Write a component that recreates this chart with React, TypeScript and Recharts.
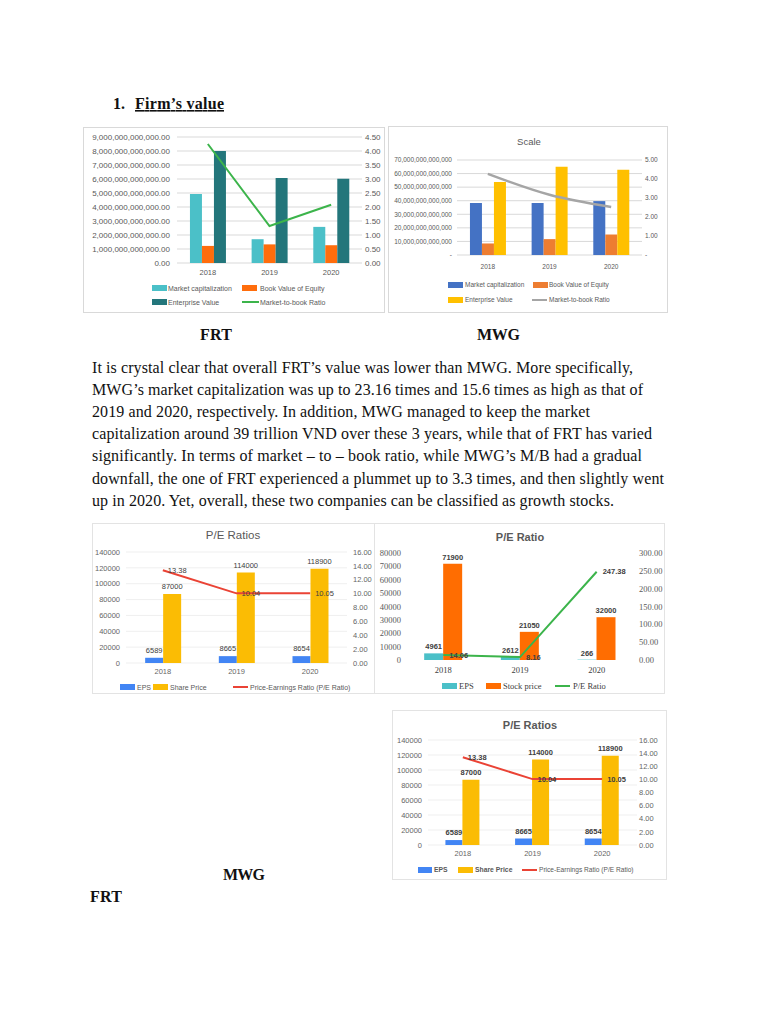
import React from 'react';
import { ComposedChart, Bar, Line, XAxis, YAxis, CartesianGrid, LabelList } from 'recharts';

const years = ['2018', '2019', '2020'];

// FRT - firm's value
const frtMarketCap = [4.93e12, 1.7e12, 2.58e12];
const frtBookValue = [1.22e12, 1.33e12, 1.27e12];
const frtEnterpriseValue = [8.0e12, 6.08e12, 6.02e12];
const frtMarketToBook = [4.25, 1.32, 2.08];
const frtValueTicks = [0, 1e12, 2e12, 3e12, 4e12, 5e12, 6e12, 7e12, 8e12, 9e12];
const frtRatioTicks = [0, 0.5, 1, 1.5, 2, 2.5, 3, 3.5, 4, 4.5];

// MWG - firm's value
const mwgMarketCap = [3.83e13, 3.83e13, 3.97e13];
const mwgBookValue = [0.85e13, 1.17e13, 1.51e13];
const mwgEnterpriseValue = [5.37e13, 6.51e13, 6.29e13];
const mwgMarketToBook = [4.27, 3.17, 2.53];
const mwgValueTicks = [0, 1e13, 2e13, 3e13, 4e13, 5e13, 6e13, 7e13];
const mwgRatioTicks = [0, 1, 2, 3, 4, 5];

// FRT - P/E
const frtEps = [6589, 8665, 8654];
const frtSharePrice = [87000, 114000, 118900];
const frtPe = [13.38, 10.04, 10.05];
const frtPriceTicks = [0, 20000, 40000, 60000, 80000, 100000, 120000, 140000];
const frtPeTicks = [0, 2, 4, 6, 8, 10, 12, 14, 16];

// MWG - P/E
const mwgEps = [4961, 2612, 266];
const mwgStockPrice = [71900, 21050, 32000];
const mwgPe = [14.06, 8.16, 247.38];
const mwgPriceTicks = [0, 10000, 20000, 30000, 40000, 50000, 60000, 70000, 80000];
const mwgPeTicks = [0, 50, 100, 150, 200, 250, 300];

const paragraph = [
  'It is crystal clear that overall FRT’s value was lower than MWG. More specifically,',
  'MWG’s market capitalization was up to 23.16 times and 15.6 times as high as that of',
  '2019 and 2020, respectively. In addition, MWG managed to keep the market',
  'capitalization around 39 trillion VND over these 3 years, while that of FRT has varied',
  'significantly. In terms of market – to – book ratio, while MWG’s M/B had a gradual',
  'downfall, the one of FRT experienced a plummet up to 3.3 times, and then slightly went',
  'up in 2020. Yet, overall, these two companies can be classified as growth stocks.',
];
const paragraphWidths = [541, 551, 498, 560, 550, 572, 522];

const sans = '"Liberation Sans", Arial, sans-serif';
const serif = '"Liberation Serif", "Times New Roman", serif';

const fmt2 = (v: number) => v.toLocaleString('en-US', { minimumFractionDigits: 2, maximumFractionDigits: 2 });
const fmtDashInt = (v: number) => (v === 0 ? '-' : v.toLocaleString('en-US'));
const fmtDash2 = (v: number) => (v === 0 ? '-' : v.toFixed(2));

const frtValueData = years.map((year, i) => ({
  year,
  marketCap: frtMarketCap[i],
  bookValue: frtBookValue[i],
  enterpriseValue: frtEnterpriseValue[i],
  mb: frtMarketToBook[i],
}));
const mwgValueData = years.map((year, i) => ({
  year,
  marketCap: mwgMarketCap[i],
  bookValue: mwgBookValue[i],
  enterpriseValue: mwgEnterpriseValue[i],
  mb: mwgMarketToBook[i],
}));
const frtPeData = years.map((year, i) => ({ year, eps: frtEps[i], price: frtSharePrice[i], pe: frtPe[i] }));
const mwgPeData = years.map((year, i) => ({ year, eps: mwgEps[i], price: mwgStockPrice[i], pe: mwgPe[i] }));

const Frame = ({ left, top, width, height, color = '#d9d9d9' }: any) => (
  <div style={{ position: 'absolute', left, top, width, height, border: `1px solid ${color}`, boxSizing: 'border-box' }} />
);

const Swatch = ({ x, y, color, kind = 'rect', w = 15 }: any) => (
  <div
    style={{
      position: 'absolute',
      left: x,
      top: kind === 'rect' ? y - 3 : y - 1,
      width: w,
      height: kind === 'rect' ? 6 : 2,
      background: color,
    }}
  />
);

const Caption = ({ x, y, text, size = 7, family = sans, weight = 'normal', color = '#595959', center = false }: any) => (
  <div
    style={{
      position: 'absolute',
      left: x,
      top: y,
      transform: center ? 'translate(-50%, -50%)' : 'translateY(-50%)',
      fontSize: size,
      fontFamily: family,
      fontWeight: weight,
      color,
      lineHeight: 1,
      whiteSpace: 'nowrap',
    }}
  >
    {text}
  </div>
);

const Place = ({ left, top, children }: any) => (
  <div style={{ position: 'absolute', left, top }}>{children}</div>
);

function FrtValueChart() {
  const tick = { fontSize: 8, fill: '#595959', fontFamily: sans };
  return (
    <Place left={83} top={127}>
      <ComposedChart width={302} height={156} data={frtValueData} margin={{ top: 10, right: 0, bottom: 0, left: 0 }} barCategoryGap="21%" barGap={0}>
        <CartesianGrid yAxisId="left" vertical={false} stroke="#d9d9d9" />
        <XAxis dataKey="year" axisLine={false} tickLine={false} tickSize={0} tickMargin={7} height={20} tick={{ ...tick, fontSize: 7.5 }} interval={0} />
        <YAxis yAxisId="left" width={94} domain={[0, 9e12]} ticks={frtValueTicks} tickFormatter={fmt2} axisLine={false} tickLine={false} tickSize={0} tickMargin={7} interval={0} tick={tick} />
        <YAxis yAxisId="right" orientation="right" width={23} domain={[0, 4.5]} ticks={frtRatioTicks} tickFormatter={(v: number) => v.toFixed(2)} axisLine={false} tickLine={false} tickSize={0} tickMargin={3} interval={0} tick={tick} />
        <Bar yAxisId="left" dataKey="marketCap" fill="#4bc0c8" isAnimationActive={false} />
        <Bar yAxisId="left" dataKey="bookValue" fill="#ff6d0c" isAnimationActive={false} />
        <Bar yAxisId="left" dataKey="enterpriseValue" fill="#23767b" isAnimationActive={false} />
        <Line yAxisId="right" dataKey="mb" stroke="#3cb44b" strokeWidth={2} dot={false} isAnimationActive={false} />
      </ComposedChart>
    </Place>
  );
}

function MwgValueChart() {
  const tick = { fontSize: 6.5, fill: '#595959', fontFamily: sans };
  return (
    <Place left={388} top={126}>
      <ComposedChart width={280} height={149} data={mwgValueData} margin={{ top: 34, right: 0, bottom: 0, left: 0 }} barCategoryGap="21%" barGap={0}>
        <CartesianGrid yAxisId="left" vertical={false} stroke="#d9d9d9" />
        <XAxis dataKey="year" axisLine={false} tickLine={false} tickSize={0} tickMargin={9} height={20} tick={tick} interval={0} />
        <YAxis yAxisId="left" width={69} domain={[0, 7e13]} ticks={mwgValueTicks} tickFormatter={fmtDashInt} axisLine={false} tickLine={false} tickSize={0} tickMargin={5} interval={0} tick={tick} />
        <YAxis yAxisId="right" orientation="right" width={26} domain={[0, 5]} ticks={mwgRatioTicks} tickFormatter={fmtDash2} axisLine={false} tickLine={false} tickSize={0} tickMargin={3} interval={0} tick={tick} />
        <Bar yAxisId="left" dataKey="marketCap" fill="#4472c4" isAnimationActive={false} />
        <Bar yAxisId="left" dataKey="bookValue" fill="#ed7d31" isAnimationActive={false} />
        <Bar yAxisId="left" dataKey="enterpriseValue" fill="#ffc000" isAnimationActive={false} />
        <Line yAxisId="right" type="monotone" dataKey="mb" stroke="#a5a5a5" strokeWidth={2.5} dot={false} isAnimationActive={false} />
      </ComposedChart>
    </Place>
  );
}

function FrtPeChart({ left, top, plotLeft, plotRight, plotTop, plotBottom, bold, gap }: any) {
  const tick = { fontSize: 7.5, fill: '#666666', fontFamily: sans };
  const label = { fontSize: 7.5, fill: '#404040', fontFamily: sans, fontWeight: bold ? 'bold' : 'normal' };
  return (
    <Place left={left} top={top}>
      <ComposedChart
        width={plotRight.box - left}
        height={plotBottom - top + 20}
        data={frtPeData}
        margin={{ top: plotTop - top, right: 0, bottom: 0, left: 0 }}
        barCategoryGap={gap}
        barGap={0}
      >
        <CartesianGrid yAxisId="left" vertical={false} stroke="#efefef" />
        <XAxis dataKey="year" axisLine={false} tickLine={false} tickSize={0} tickMargin={6} height={20} tick={tick} interval={0} />
        <YAxis yAxisId="left" width={plotLeft - left} domain={[0, 140000]} ticks={frtPriceTicks} axisLine={false} tickLine={false} tickSize={0} tickMargin={6} interval={0} tick={tick} />
        <YAxis yAxisId="right" orientation="right" width={plotRight.box - plotRight.plot} domain={[0, 16]} ticks={frtPeTicks} tickFormatter={(v: number) => v.toFixed(2)} axisLine={false} tickLine={false} tickSize={0} tickMargin={plotRight.gap} interval={0} tick={tick} />
        <Bar yAxisId="left" dataKey="eps" fill="#4285f4" isAnimationActive={false}>
          <LabelList dataKey="eps" position="top" offset={5} {...label} />
        </Bar>
        <Bar yAxisId="left" dataKey="price" fill="#fbbc04" isAnimationActive={false}>
          <LabelList dataKey="price" position="top" offset={5} {...label} />
        </Bar>
        <Line yAxisId="right" dataKey="pe" stroke="#ea4335" strokeWidth={2} dot={false} isAnimationActive={false}>
          <LabelList dataKey="pe" position="right" offset={5} {...label} formatter={(v: any) => Number(v).toFixed(2)} />
        </Line>
      </ComposedChart>
    </Place>
  );
}

function MwgPeChart() {
  const tick = { fontSize: 8.5, fill: '#595959', fontFamily: serif };
  const label = { fontSize: 7.5, fill: '#404040', fontFamily: sans, fontWeight: 'bold' };
  return (
    <Place left={374} top={523}>
      <ComposedChart width={291} height={157} data={mwgPeData} margin={{ top: 30, right: 0, bottom: 0, left: 0 }} barCategoryGap="25%" barGap={0}>
        <XAxis dataKey="year" axisLine={false} tickLine={false} tickSize={0} tickMargin={7} height={20} tick={{ ...tick, fill: '#404040' }} interval={0} />
        <YAxis yAxisId="left" width={31} domain={[0, 80000]} ticks={mwgPriceTicks} axisLine={false} tickLine={false} tickSize={0} tickMargin={4} interval={0} tick={tick} />
        <YAxis yAxisId="right" orientation="right" width={30} domain={[0, 300]} ticks={mwgPeTicks} tickFormatter={(v: number) => v.toFixed(2)} axisLine={false} tickLine={false} tickSize={0} tickMargin={4} interval={0} tick={tick} />
        <Bar yAxisId="left" dataKey="eps" fill="#4bc0c8" isAnimationActive={false}>
          <LabelList dataKey="eps" position="top" offset={4} {...label} />
        </Bar>
        <Bar yAxisId="left" dataKey="price" fill="#ff6d01" isAnimationActive={false}>
          <LabelList dataKey="price" position="top" offset={4} {...label} />
        </Bar>
        <Line yAxisId="right" dataKey="pe" stroke="#3cb44b" strokeWidth={2} dot={false} isAnimationActive={false}>
          <LabelList dataKey="pe" position="right" offset={6} {...label} formatter={(v: any) => Number(v).toFixed(2)} />
        </Line>
      </ComposedChart>
    </Place>
  );
}

function PageText() {
  const ink = '#111111';
  return (
    <svg width={768} height={1024} style={{ position: 'absolute', left: 0, top: 0 }}>
      <g fontFamily={serif} fill={ink}>
        <text x={113} y={109} fontSize={16} fontWeight="bold" textLength={12} lengthAdjust="spacing">1.</text>
        <text x={135} y={109} fontSize={16} fontWeight="bold" textLength={89} lengthAdjust="spacing" style={{ textDecoration: 'underline' }}>
          Firm’s value
        </text>
        <text x={200} y={340} fontSize={16} fontWeight="bold" textLength={32} lengthAdjust="spacing">FRT</text>
        <text x={477} y={340} fontSize={16} fontWeight="bold" textLength={43} lengthAdjust="spacing">MWG</text>
        {paragraph.map((line, i) => (
          <text key={i} x={92} y={373 + i * 22.1} fontSize={16} textLength={paragraphWidths[i]} lengthAdjust="spacing">
            {line}
          </text>
        ))}
        <text x={223} y={880} fontSize={16} fontWeight="bold" textLength={42} lengthAdjust="spacing">MWG</text>
        <text x={90} y={902} fontSize={16} fontWeight="bold" textLength={32} lengthAdjust="spacing">FRT</text>
      </g>
    </svg>
  );
}

export default function App() {
  return (
    <div style={{ position: 'absolute', left: 0, top: 0, width: 768, height: 1024, background: '#ffffff', overflow: 'hidden' }}>
      <PageText />

      {/* FRT firm's value */}
      <Frame left={83} top={127} width={302} height={186} />
      <FrtValueChart />
      <Swatch x={152} y={288} color="#4bc0c8" />
      <Caption x={168} y={288} text="Market capitalization" size={7} />
      <Swatch x={242} y={288} color="#ff6d0c" />
      <Caption x={260} y={288} text="Book Value of Equity" size={7} />
      <Swatch x={152} y={302} color="#23767b" />
      <Caption x={168} y={302} text="Enterprise Value" size={7} />
      <Swatch x={242} y={302} color="#3cb44b" kind="line" w={17} />
      <Caption x={260} y={302} text="Market-to-book Ratio" size={7} />

      {/* MWG firm's value */}
      <Frame left={388} top={126} width={280} height={187} />
      <Caption x={529} y={142} text="Scale" size={9.5} center />
      <MwgValueChart />
      <Swatch x={448} y={285} color="#4472c4" />
      <Caption x={465} y={285} text="Market capitalization" size={6.5} />
      <Swatch x={533} y={285} color="#ed7d31" />
      <Caption x={549} y={285} text="Book Value of Equity" size={6.5} />
      <Swatch x={448} y={300} color="#ffc000" />
      <Caption x={465} y={300} text="Enterprise Value" size={6.5} />
      <Swatch x={532} y={300} color="#a5a5a5" kind="line" />
      <Caption x={549} y={300} text="Market-to-book Ratio" size={6.5} />

      {/* FRT P/E */}
      <Frame left={92} top={523} width={283} height={171} color="#e3e3e3" />
      <Caption x={233} y={536} text="P/E Ratios" size={11.5} center />
      <FrtPeChart left={92} top={523} plotLeft={126} plotRight={{ plot: 347, box: 375, gap: 6 }} plotTop={552} plotBottom={663} gap="26%" />
      <Swatch x={120} y={687} color="#4285f4" />
      <Caption x={137} y={687} text="EPS" size={7} />
      <Swatch x={153} y={687} color="#fbbc04" />
      <Caption x={170} y={687} text="Share Price" size={7} />
      <Swatch x={233} y={687} color="#ea4335" kind="line" />
      <Caption x={250} y={687} text="Price-Earnings Ratio (P/E Ratio)" size={7} />

      {/* MWG P/E */}
      <Frame left={374} top={523} width={291} height={171} color="#e3e3e3" />
      <Caption x={520} y={537} text="P/E Ratio" size={11} weight="bold" center />
      <MwgPeChart />
      <Swatch x={442} y={686} color="#4bc0c8" />
      <Caption x={459} y={686} text="EPS" size={8.5} family={serif} color="#404040" />
      <Swatch x={486} y={686} color="#ff6d01" />
      <Caption x={503} y={686} text="Stock price" size={8.5} family={serif} color="#404040" />
      <Swatch x={555} y={686} color="#3cb44b" kind="line" />
      <Caption x={573} y={686} text="P/E Ratio" size={8.5} family={serif} color="#404040" />

      {/* FRT P/E (repeated) */}
      <Frame left={392} top={710} width={275} height={170} color="#e3e3e3" />
      <Caption x={530} y={725} text="P/E Ratios" size={11} weight="bold" center />
      <FrtPeChart left={392} top={710} plotLeft={428} plotRight={{ plot: 637, box: 667, gap: 2 }} plotTop={740} plotBottom={845} gap="25%" bold />
      <Swatch x={418} y={870} color="#4285f4" w={14} />
      <Caption x={434} y={870} text="EPS" size={6.8} weight="bold" />
      <Swatch x={458} y={870} color="#fbbc04" />
      <Caption x={475} y={870} text="Share Price" size={6.8} weight="bold" />
      <Swatch x={522} y={870} color="#ea4335" kind="line" />
      <Caption x={539} y={870} text="Price-Earnings Ratio (P/E Ratio)" size={6.6} />
    </div>
  );
}
